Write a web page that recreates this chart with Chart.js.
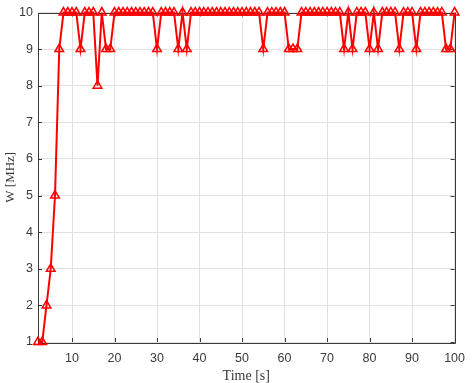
<!DOCTYPE html>
<html>
<head>
<meta charset="utf-8">
<script src="https://cdn.jsdelivr.net/npm/chart.js@4.4.0/dist/chart.umd.min.js"></script>
<style>
  html, body { margin: 0; padding: 0; background: #fff; }
  #wrap { width: 474px; height: 383px; }
</style>
</head>
<body>
<div id="wrap"><canvas id="chart" width="474" height="383"></canvas></div>
<script>
// Time samples [s]
const timeValues = [
  2, 3, 4, 5, 6, 7, 8, 9,
  10, 11, 12, 13, 14, 15, 16, 17, 18, 19,
  20, 21, 22, 23, 24, 25, 26, 27, 28, 29,
  30, 31, 32, 33, 34, 35, 36, 37, 38, 39,
  40, 41, 42, 43, 44, 45, 46, 47, 48, 49,
  50, 51, 52, 53, 54, 55, 56, 57, 58, 59,
  60, 61, 62, 63, 64, 65, 66, 67, 68, 69,
  70, 71, 72, 73, 74, 75, 76, 77, 78, 79,
  80, 81, 82, 83, 84, 85, 86, 87, 88, 89,
  90, 91, 92, 93, 94, 95, 96, 97, 98, 99,
  100
];

// Bandwidth W [MHz] at each time sample
const bandwidth = [
  1, 1, 2, 3, 5, 9, 10, 10,
  10, 10, 9, 10, 10, 10, 8, 10, 9, 9,
  10, 10, 10, 10, 10, 10, 10, 10, 10, 10,
  9, 10, 10, 10, 10, 9, 10, 9, 10, 10,
  10, 10, 10, 10, 10, 10, 10, 10, 10, 10,
  10, 10, 10, 10, 10, 9, 10, 10, 10, 10,
  10, 9, 9, 9, 10, 10, 10, 10, 10, 10,
  10, 10, 10, 10, 9, 10, 9, 10, 10, 10,
  9, 10, 9, 10, 10, 10, 10, 9, 10, 10,
  10, 9, 10, 10, 10, 10, 10, 10, 9, 9,
  10
];

const xTicks = [10, 20, 30, 40, 50, 60, 70, 80, 90, 100];
const yTicks = [1, 2, 3, 4, 5, 6, 7, 8, 9, 10];

const axisColor = '#3a3a3a';
const gridColor = '#e1e1e1';
const tickFont = { family: '"Liberation Sans", Arial, sans-serif', size: 12.5 };
const titleFamily = '"Liberation Serif", "Times New Roman", serif';

// Draws the MATLAB-style box and inward tick marks
const boxTicks = {
  id: 'boxTicks',
  beforeDatasetsDraw(chart) {
    const { ctx, chartArea: a, scales: { x, y } } = chart;
    ctx.save();
    ctx.strokeStyle = axisColor;
    ctx.lineWidth = 1;
    ctx.beginPath();
    ctx.rect(Math.round(a.left) + 0.5, Math.round(a.top) + 0.5,
      Math.round(a.right - a.left), Math.round(a.bottom - a.top));
    x.ticks.forEach(t => {
      const px = Math.round(x.getPixelForValue(t.value)) + 0.5;
      ctx.moveTo(px, a.bottom); ctx.lineTo(px, a.bottom - 4);
      ctx.moveTo(px, a.top); ctx.lineTo(px, a.top + 4);
    });
    y.ticks.forEach(t => {
      const py = Math.round(y.getPixelForValue(t.value)) + 0.5;
      ctx.moveTo(a.left, py); ctx.lineTo(a.left + 4, py);
      ctx.moveTo(a.right, py); ctx.lineTo(a.right - 4, py);
    });
    ctx.stroke();
    ctx.restore();
  }
};

new Chart(document.getElementById('chart'), {
  type: 'line',
  data: {
    datasets: [{
      data: timeValues.map((t, i) => ({ x: t, y: bandwidth[i] })),
      borderColor: '#ff0000',
      borderWidth: 2,
      pointStyle: 'triangle',
      pointRadius: 5,
      pointBorderWidth: 1.5,
      pointBorderColor: '#ff0000',
      pointBackgroundColor: 'rgba(0,0,0,0)',
      tension: 0,
      clip: false
    }]
  },
  options: {
    responsive: false,
    animation: false,
    layout: { padding: { top: 7, right: 11, left: 0, bottom: 0 } },
    plugins: {
      legend: { display: false },
      tooltip: { enabled: false }
    },
    scales: {
      x: {
        type: 'linear',
        min: 2,
        max: 100,
        afterBuildTicks: s => { s.ticks = xTicks.map(v => ({ value: v })); },
        afterFit: s => { s.height = 41; },
        grid: { color: gridColor, drawTicks: false },
        border: { display: false },
        ticks: { color: axisColor, font: tickFont, padding: 9, maxRotation: 0 },
        title: {
          display: true,
          text: 'Time [s]',
          color: axisColor,
          font: { family: titleFamily, size: 14 },
          padding: { top: 0, bottom: -2 }
        }
      },
      y: {
        min: 1,
        max: 10,
        afterBuildTicks: s => { s.ticks = yTicks.map(v => ({ value: v })); },
        afterFit: s => { s.width = 38; },
        grid: { color: gridColor, drawTicks: false },
        border: { display: false },
        ticks: { color: axisColor, font: tickFont, padding: 5 },
        title: {
          display: true,
          text: 'W [MHz]',
          color: axisColor,
          font: { family: titleFamily, size: 13 },
          padding: { top: 3, bottom: 0 }
        }
      }
    }
  },
  plugins: [boxTicks]
});
</script>
</body>
</html>
